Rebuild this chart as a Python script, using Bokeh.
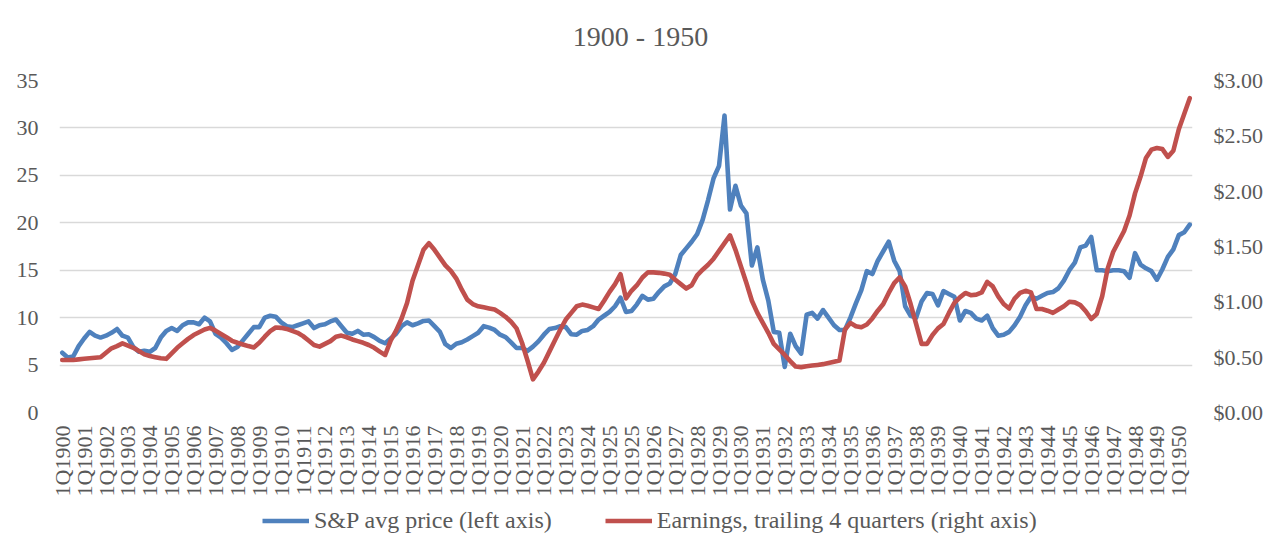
import math

from bokeh.embed import file_html
from bokeh.layouts import column
from bokeh.models import (ColumnDataSource, FixedTicker, Label, Legend, LegendItem,
                          LinearAxis, NumeralTickFormatter, Range1d)
from bokeh.plotting import figure
from bokeh.resources import INLINE

# Quarterly S&P average price (left axis) and trailing 4-quarter earnings (right axis)
price = [
    6.3, 5.8, 5.9, 7.0, 7.8, 8.5, 8.1, 7.9, 8.1, 8.4,
    8.8, 8.1, 7.9, 6.9, 6.4, 6.5, 6.4, 6.8, 7.9, 8.6,
    8.9, 8.6, 9.2, 9.5, 9.5, 9.3, 10.0, 9.6, 8.3, 7.9,
    7.3, 6.6, 6.9, 7.6, 8.3, 9.0, 9.0, 10.0, 10.2, 10.1,
    9.5, 9.1, 9.0, 9.2, 9.4, 9.6, 8.9, 9.2, 9.3, 9.6,
    9.8, 9.1, 8.4, 8.3, 8.6, 8.2, 8.25, 7.95, 7.55, 7.3,
    7.8, 8.3, 9.1, 9.5, 9.2, 9.4, 9.65, 9.7, 9.1, 8.5,
    7.2, 6.8, 7.25, 7.4, 7.7, 8.05, 8.4, 9.1, 8.95, 8.7,
    8.2, 7.95, 7.4, 6.8, 6.8, 6.5, 6.95, 7.5, 8.2, 8.8,
    8.9, 9.1, 9.0, 8.25, 8.2, 8.6, 8.7, 9.1, 9.8, 10.2,
    10.6, 11.2, 12.1, 10.6, 10.7, 11.4, 12.3, 11.9, 12.0, 12.7,
    13.3, 13.6, 14.6, 16.6, 17.3, 18.0, 18.8, 20.3, 22.4, 24.7,
    26.0, 31.3, 21.4, 23.9, 21.8, 21.0, 15.5, 17.4, 14.0, 11.8,
    8.5, 8.4, 4.8, 8.3, 7.0, 6.2, 10.3, 10.5, 9.9, 10.8,
    10.0, 9.2, 8.7, 8.7, 10.0, 11.5, 12.9, 14.9, 14.6, 16.0,
    17.0, 18.0, 16.0, 14.9, 11.2, 10.2, 10.0, 11.7, 12.6, 12.5,
    11.3, 12.8, 12.5, 12.2, 9.7, 10.7, 10.5, 9.9, 9.7, 10.2,
    8.9, 8.1, 8.2, 8.5, 9.2, 10.1, 11.3, 12.2, 12.0, 12.3,
    12.6, 12.7, 13.1, 13.9, 15.0, 15.8, 17.4, 17.6, 18.5, 15.0,
    15.0, 14.9, 15.0, 15.0, 14.9, 14.2, 16.8, 15.6, 15.2, 14.9,
    14.0, 15.1, 16.4, 17.2, 18.7, 19.0, 19.8,
]

earnings = [
    0.475, 0.475, 0.475, 0.48, 0.485, 0.49, 0.495, 0.50, 0.54, 0.58,
    0.60, 0.625, 0.605, 0.585, 0.555, 0.525, 0.51, 0.50, 0.49, 0.485,
    0.535, 0.585, 0.625, 0.665, 0.70, 0.725, 0.75, 0.765, 0.74, 0.71,
    0.68, 0.648, 0.63, 0.615, 0.60, 0.588, 0.63, 0.685, 0.735, 0.768,
    0.765, 0.755, 0.738, 0.72, 0.69, 0.65, 0.61, 0.595, 0.62, 0.645,
    0.685, 0.695, 0.68, 0.66, 0.645, 0.63, 0.61, 0.585, 0.55, 0.52,
    0.65, 0.74, 0.85, 0.99, 1.19, 1.33, 1.47, 1.53, 1.47, 1.40,
    1.33, 1.28, 1.21, 1.11, 1.02, 0.98, 0.96, 0.95, 0.94, 0.93,
    0.90, 0.865, 0.82, 0.76, 0.63, 0.47, 0.30, 0.37, 0.45, 0.55,
    0.65, 0.75, 0.84, 0.90, 0.96, 0.975, 0.965, 0.95, 0.935, 1.01,
    1.09, 1.16, 1.25, 1.03, 1.10, 1.15, 1.22, 1.266, 1.266, 1.262,
    1.255, 1.245, 1.20, 1.16, 1.12, 1.15, 1.24, 1.29, 1.335, 1.39,
    1.46, 1.53, 1.60, 1.47, 1.32, 1.17, 1.01, 0.90, 0.81, 0.72,
    0.62, 0.57, 0.52, 0.465, 0.415, 0.41, 0.418, 0.424, 0.43, 0.437,
    0.447, 0.458, 0.47, 0.75, 0.81, 0.78, 0.77, 0.795, 0.85, 0.92,
    0.98, 1.08, 1.17, 1.22, 1.14, 0.98, 0.80, 0.62, 0.62, 0.70,
    0.76, 0.80, 0.90, 0.99, 1.04, 1.08, 1.06, 1.065, 1.085, 1.18,
    1.14, 1.05, 0.98, 0.94, 1.03, 1.08, 1.10, 1.085, 0.935, 0.935,
    0.92, 0.90, 0.93, 0.96, 1.00, 0.995, 0.97, 0.915, 0.845, 0.89,
    1.05, 1.30, 1.45, 1.545, 1.64, 1.78, 1.98, 2.13, 2.30, 2.375,
    2.39, 2.38, 2.31, 2.365, 2.56, 2.70, 2.84,
]

# One label for every fourth quarter
tick_labels = [
    "1Q1900", "1Q1901", "1Q1902", "1Q1903", "1Q1904", "1Q1905", "1Q1906",
    "1Q1907", "1Q1908", "1Q1909", "1Q1910", "1Q1911", "1Q1912", "1Q1913",
    "1Q1914", "1Q1915", "1Q1916", "1Q1917", "1Q1918", "1Q1919", "1Q1920",
    "1Q1921", "1Q1922", "1Q1923", "1Q1924", "1Q1925", "1Q1925", "1Q1926",
    "1Q1927", "1Q1928", "1Q1929", "1Q1930", "1Q1931", "1Q1932", "1Q1933",
    "1Q1934", "1Q1935", "1Q1936", "1Q1937", "1Q1938", "1Q1939", "1Q1940",
    "1Q1941", "1Q1942", "1Q1943", "1Q1944", "1Q1945", "1Q1946", "1Q1947",
    "1Q1948", "1Q1949", "1Q1950",
]

left_ticks = [0, 5, 10, 15, 20, 25, 30, 35]
right_ticks = [0.0, 0.5, 1.0, 1.5, 2.0, 2.5, 3.0]

chart_title = "1900 - 1950"
series_names = ["S&P avg price (left axis)", "Earnings, trailing 4 quarters (right axis)"]

FONT = "Liberation Serif"
TEXT = "#595959"
BLUE = "#4F81BD"
RED = "#C0504D"
LINE_W = 4.6

n = len(price)
quarters = list(range(n))
src = ColumnDataSource(dict(q=quarters, price=price, earnings=earnings))


def strip(height, y_range):
    """A bare, axis-less figure used for the title and legend rows."""
    f = figure(
        width=1280, height=height,
        x_range=Range1d(-0.5, n - 0.5), y_range=y_range,
        x_axis_type=None, y_axis_type=None,
        output_backend="svg", toolbar_location=None, min_border=0,
    )
    f.outline_line_color = None
    f.grid.visible = False
    return f


# ---- title row ----
top = strip(62, Range1d(0, 62))
top.add_layout(Label(
    x=581, y=26, x_units="screen", y_units="screen",
    text=chart_title, text_align="center", text_baseline="middle",
    text_font=FONT, text_font_size="28px", text_color=TEXT,
))

# ---- main chart ----
p = figure(
    width=1280, height=438,
    x_range=Range1d(-0.5, n - 0.5),
    y_range=Range1d(left_ticks[0], left_ticks[-1]),
    output_backend="svg", toolbar_location=None,
    min_border_left=59, min_border_right=88,
    min_border_top=18, min_border_bottom=88,
)
p.extra_y_ranges = {"right": Range1d(right_ticks[0], right_ticks[-1])}
p.outline_line_color = None
p.background_fill_color = "white"

p.xgrid.visible = False
p.ygrid.grid_line_color = "#D9D9D9"
p.ygrid.grid_line_width = 1.3

p.yaxis.ticker = FixedTicker(ticks=left_ticks)
tick_pos = [4 * k for k in range(len(tick_labels))]
p.xaxis.ticker = FixedTicker(ticks=tick_pos)
p.xaxis.major_label_overrides = {pos: lab for pos, lab in zip(tick_pos, tick_labels)}
p.xaxis.major_label_orientation = math.pi / 2

right_axis = LinearAxis(
    y_range_name="right",
    ticker=FixedTicker(ticks=right_ticks),
    formatter=NumeralTickFormatter(format="$0.00"),
)
p.add_layout(right_axis, "right")

for ax in (p.xaxis[0], p.yaxis[0], right_axis):
    ax.axis_line_color = None
    ax.major_tick_line_color = None
    ax.minor_tick_line_color = None
    ax.major_tick_out = 0
    ax.major_tick_in = 0
    ax.major_label_text_font = FONT
    ax.major_label_text_color = TEXT
    ax.major_label_text_font_size = "22px"

p.yaxis[0].major_label_standoff = 21
right_axis.major_label_standoff = 21
p.xaxis[0].major_label_standoff = 13

p.line("q", "price", source=src, line_color=BLUE, line_width=LINE_W,
       line_join="round", line_cap="round")
p.line("q", "earnings", source=src, y_range_name="right", line_color=RED,
       line_width=LINE_W, line_join="round", line_cap="round")

# ---- legend row: same series, kept well below this strip's visible y-range ----
bottom = strip(55, Range1d(-110, -55))
key_price = bottom.line("q", "price", source=src, line_color=BLUE, line_width=LINE_W)
key_earn = bottom.line("q", "earnings", source=src, line_color=RED, line_width=LINE_W)

legend = Legend(
    items=[
        LegendItem(label=series_names[0], renderers=[key_price]),
        LegendItem(label=series_names[1], renderers=[key_earn]),
    ],
    location=(203, 21),
    orientation="horizontal",
    glyph_width=47, glyph_height=27,
    label_standoff=5, spacing=53, padding=0, margin=0,
    border_line_color=None, background_fill_alpha=0,
    label_text_font=FONT, label_text_font_size="24px", label_text_color=TEXT,
)
bottom.add_layout(legend, "center")

layout = column(top, p, bottom, spacing=0)
open("out.html", "w").write(file_html(layout, INLINE))
